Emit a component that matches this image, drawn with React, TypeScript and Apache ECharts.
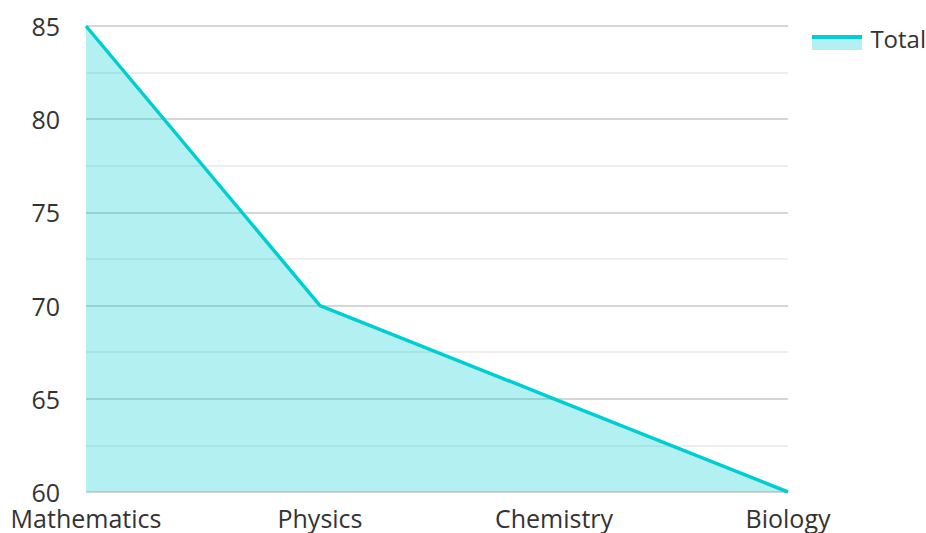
import React, { useEffect, useRef } from "react";
import * as echarts from "echarts";

const categories = ["Mathematics", "Physics", "Chemistry", "Biology"];
const totalValues = [85, 70, 65, 60];
const seriesName = "Total";

export default function App() {
  const ref = useRef<HTMLDivElement>(null);
  useEffect(() => {
    if (!ref.current) return;
    const chart = echarts.init(ref.current, null, { renderer: "svg" });
    chart.setOption({
      animation: false,
      textStyle: { fontFamily: "Open Sans" },
      legend: {
        right: 0,
        top: 26,
        padding: 0,
        itemWidth: 50,
        itemHeight: 20,
        itemGap: 10,
        icon: "rect",
        itemStyle: { color: "rgba(0,0,0,0)", borderWidth: 0 },
        textStyle: { fontSize: 24, color: "#333", fontFamily: "Open Sans" },
        data: [seriesName],
      },
      graphic: [
        {
          type: "rect",
          left: 812,
          top: 39,
          shape: { width: 50, height: 11 },
          style: { fill: "rgba(0,206,209,0.3)" },
          z: 100,
        },
        {
          type: "rect",
          left: 812,
          top: 35,
          shape: { width: 50, height: 4 },
          style: { fill: "#00CED1" },
          z: 101,
        },
      ],
      grid: { left: 86, right: 138, top: 26, bottom: 41, containLabel: false },
      xAxis: {
        type: "category",
        data: categories,
        boundaryGap: false,
        axisLine: { show: false },
        axisTick: { show: false },
        axisLabel: { fontSize: 25, color: "#333", margin: 13, fontFamily: "Open Sans" },
      },
      yAxis: {
        type: "value",
        min: 60,
        max: 85,
        interval: 5,
        axisLine: { show: false },
        axisTick: { show: false },
        axisLabel: { fontSize: 25, color: "#333", margin: 26, fontFamily: "Open Sans" },
        splitLine: { show: true, lineStyle: { color: "#c8c8c8", width: 1.5 } },
        minorTick: { show: false, splitNumber: 2 },
        minorSplitLine: { show: true, lineStyle: { color: "#e8e8e8", width: 1.5 } },
      },
      series: [
        {
          name: seriesName,
          type: "line",
          data: totalValues,
          symbol: "none",
          lineStyle: { color: "#00CED1", width: 3.5 },
          itemStyle: { color: "#00CED1" },
          areaStyle: { color: "rgba(0,206,209,0.3)", opacity: 1 },
        },
      ],
    });
    return () => chart.dispose();
  }, []);
  return <div ref={ref} style={{ width: 926, height: 533, position: "absolute", left: 0, top: 0 }} />;
}
